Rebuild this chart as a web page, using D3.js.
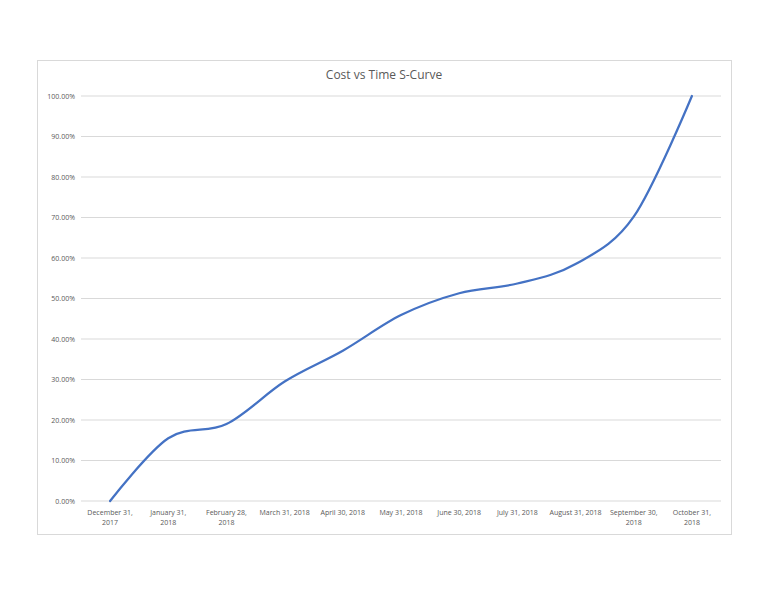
<!DOCTYPE html><html><head><meta charset="UTF-8"><script src="https://d3js.org/d3.v7.min.js"></script><style>
    body { margin: 0; background: #fff; }
    text { font-family: "Open Sans", "Noto Sans", sans-serif; fill: #595959; }
</style></head><body><div id="chart"></div><script>
    const dates = ["December 31, 2017", "January 31, 2018", "February 28, 2018", "March 31, 2018",
        "April 30, 2018", "May 31, 2018", "June 30, 2018", "July 31, 2018",
        "August 31, 2018", "September 30, 2018", "October 31, 2018"];
    const costPct = [0, 0.155, 0.19, 0.295, 0.371, 0.459, 0.513, 0.537, 0.585, 0.702, 1.0];
    const yTicks = [0, 0.1, 0.2, 0.3, 0.4, 0.5, 0.6, 0.7, 0.8, 0.9, 1.0];

    const fullWidth = 768, fullHeight = 594;
    const plot = {left: 81, right: 721, top: 96, bottom: 501};

    const svg = d3.select('#chart').append('svg')
        .attr('width', fullWidth)
        .attr('height', fullHeight);

    // chart frame
    svg.append('rect')
        .attr('x', 37.5).attr('y', 60.5)
        .attr('width', 694).attr('height', 474)
        .attr('fill', '#fff')
        .attr('stroke', '#d9d9d9')
        .attr('stroke-width', 1);

    svg.append('text')
        .attr('x', 384).attr('y', 79)
        .attr('text-anchor', 'middle')
        .attr('font-size', 12)
        .style('fill', '#595959')
        .text('Cost vs Time S-Curve');

    const x = d3.scaleBand()
        .domain(dates)
        .range([plot.left, plot.right]);

    const y = d3.scaleLinear()
        .domain([0, 1])
        .range([plot.bottom, plot.top]);

    // gridlines
    svg.append('g')
        .selectAll('line')
        .data(yTicks)
        .enter().append('line')
        .attr('x1', plot.left).attr('x2', plot.right)
        .attr('y1', d => y(d)).attr('y2', d => y(d))
        .attr('stroke', '#d9d9d9')
        .attr('stroke-width', 1);

    const yAxis = svg.append('g')
        .attr('transform', `translate(${plot.left},0)`)
        .call(d3.axisLeft(y).tickValues(yTicks).tickFormat(d3.format('.2%')).tickSize(0).tickPadding(6));
    yAxis.select('.domain').remove();
    yAxis.selectAll('text')
        .attr('font-size', 7)
        .style('font-family', '"Open Sans", sans-serif')
        .style('fill', '#595959');

    const xAxis = svg.append('g')
        .attr('transform', `translate(0,${plot.bottom})`)
        .call(d3.axisBottom(x).tickSize(0).tickPadding(9));
    xAxis.select('.domain').remove();
    xAxis.selectAll('text')
        .attr('font-size', 7)
        .style('font-family', '"Open Sans", sans-serif')
        .style('fill', '#595959')
        .each(function(d) {
            const t = d3.select(this);
            const words = d.split(' ');
            const maxW = x.bandwidth() - 5;
            t.text(null);
            let line = [];
            let lines = [];
            const probe = t.append('tspan');
            words.forEach(w => {
                const test = line.concat(w).join(' ');
                probe.text(test);
                if (probe.node().getComputedTextLength() > maxW && line.length) {
                    lines.push(line.join(' '));
                    line = [w];
                } else {
                    line.push(w);
                }
            });
            lines.push(line.join(' '));
            probe.remove();
            lines.forEach((l, i) => {
                t.append('tspan')
                    .attr('x', 0)
                    .attr('dy', i === 0 ? '0.71em' : '1.5em')
                    .text(l);
            });
            t.attr('dy', null);
        });

    const line = d3.line()
        .x(d => x(d.date) + x.bandwidth() / 2)
        .y(d => y(d.v))
        .curve(d3.curveCatmullRom.alpha(0));

    svg.append('path')
        .datum(dates.map((d, i) => ({date: d, v: costPct[i]})))
        .attr('d', line)
        .attr('fill', 'none')
        .attr('stroke', '#4472c4')
        .attr('stroke-width', 2.25)
        .attr('stroke-linecap', 'round');
</script></body></html>
